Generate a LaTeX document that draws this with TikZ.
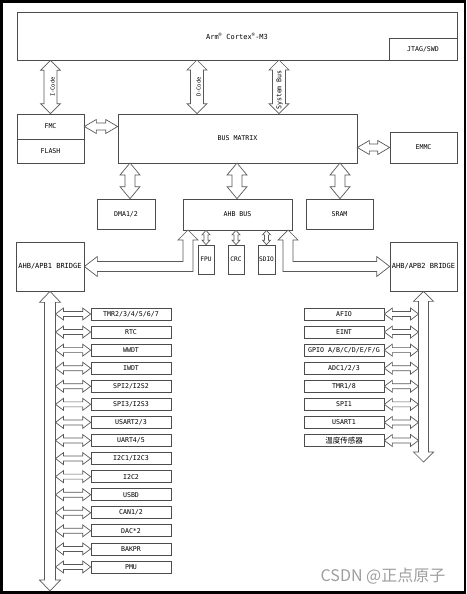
\documentclass[tikz,border=0pt]{standalone}
\usepackage{fontspec}
\newfontfamily\mono{DejaVu Sans Mono}
\newfontfamily\cjk{Noto Sans CJK SC}
\usetikzlibrary{calc}
\tikzset{
 box/.style={draw=black!70, line width=0.7pt, fill=white, inner sep=0pt, text=black, font=\mono\fontsize{6.6}{7}\selectfont},
 pbox/.style={box, minimum width=80pt, minimum height=12pt},
 barrow/.style={draw=black!65, line width=0.7pt, fill=white, line join=miter},
 blabel/.style={rotate=90, inner sep=0pt, text=black, font=\mono\fontsize{5.5}{6}\selectfont},
}
\newcommand\vbi[5]{\draw[barrow] let \p1=(#1), \p2=(#2) in (\x1,\y1) -- (\x1+#3pt,\y1-#5pt) -- (\x1+#4pt,\y1-#5pt) -- (\x1+#4pt,\y2+#5pt) -- (\x1+#3pt,\y2+#5pt) -- (\x1,\y2) -- (\x1-#3pt,\y2+#5pt) -- (\x1-#4pt,\y2+#5pt) -- (\x1-#4pt,\y1-#5pt) -- (\x1-#3pt,\y1-#5pt) -- cycle;}
\newcommand\hbi[5]{\draw[barrow] let \p1=(#1), \p2=(#2) in (\x1,\y1) -- (\x1+#5pt,\y1+#3pt) -- (\x1+#5pt,\y1+#4pt) -- (\x2-#5pt,\y1+#4pt) -- (\x2-#5pt,\y1+#3pt) -- (\x2,\y1) -- (\x2-#5pt,\y1-#3pt) -- (\x2-#5pt,\y1-#4pt) -- (\x1+#5pt,\y1-#4pt) -- (\x1+#5pt,\y1-#3pt) -- cycle;}
\begin{document}
\begin{tikzpicture}[x=1pt,y=-1pt]
\useasboundingbox (0,0) rectangle (466,594);
\fill[black] (0,0) rectangle (466,594);
\fill[white] (3,3) rectangle (464,591);

% main blocks
\node[box, minimum width=440pt, minimum height=48pt, font=\mono\fontsize{7}{8}\selectfont] (cortex) at (237,36) {Arm\textsuperscript{®} Cortex\textsuperscript{®}-M3};
\node[box, minimum width=68pt, minimum height=22pt] (jtag) at (423,49) {JTAG/SWD};
\node[box, minimum width=67pt, minimum height=25pt] (fmc) at (50.5,126.5) {FMC};
\node[box, minimum width=67pt, minimum height=24pt] (flash) at (50.5,151) {FLASH};
\node[box, minimum width=239pt, minimum height=49pt] (bm) at (237.5,138.5) {BUS MATRIX};
\node[box, minimum width=67pt, minimum height=31pt] (emmc) at (423.5,147.5) {EMMC};
\node[box, minimum width=58pt, minimum height=30pt] (dma) at (126,214) {DMA1/2};
\node[box, minimum width=109pt, minimum height=31pt] (ahb) at (237.5,214.5) {AHB BUS};
\node[box, minimum width=67pt, minimum height=30pt] (sram) at (339.5,214) {SRAM};
\node[box, minimum width=16pt, minimum height=29pt, font=\mono\fontsize{6.2}{7}\selectfont] (fpu) at (206,259.5) {FPU};
\node[box, minimum width=16pt, minimum height=29pt, font=\mono\fontsize{6.2}{7}\selectfont] (crc) at (236,259.5) {CRC};
\node[box, minimum width=17pt, minimum height=29pt, font=\mono\fontsize{6.2}{7}\selectfont] (sdio) at (266.5,259.5) {SDIO};
\node[box, minimum width=68pt, minimum height=49pt, font=\mono\fontsize{7}{8}\selectfont] (apb1) at (50,266.5) {AHB/APB1 BRIDGE};
\node[box, minimum width=67pt, minimum height=49pt, font=\mono\fontsize{7}{8}\selectfont] (apb2) at (423.5,266.5) {AHB/APB2 BRIDGE};

% helper coordinates
\coordinate (dcode) at (197,60);
\coordinate (sbus) at (279,60);
\coordinate (dmaA) at (130,163);
\coordinate (ahbA) at (237,163);
\coordinate (sramA) at (340,163);
\coordinate (e1) at (188,230);
\coordinate (e2) at (288,230);
\coordinate (lend) at (50,591);
\coordinate (rend) at (423.5,462);
\coordinate (lbus) at (55.5,0);
\coordinate (rbus) at (418.5,0);

% core buses
\vbi{fmc.north |- cortex.south}{fmc.north}{10}{6.5}{10}
\vbi{dcode}{dcode |- bm.north}{10}{6.5}{10}
\vbi{sbus}{sbus |- bm.north}{10}{6.5}{10}
\node[blabel] (licode) at (52.5,87) {I-Code};
\node[blabel] (ldcode) at (198.5,87) {D-Code};
\node[blabel, font=\mono\fontsize{6.6}{7}\selectfont] (lsbus) at (279.5,90) {System Bus};

% bus matrix links
\hbi{fmc.east}{fmc.east -| bm.west}{7}{3.5}{12}
\hbi{emmc.west -| bm.east}{emmc.west}{7}{3.5}{12}
\vbi{dmaA}{dmaA |- dma.north}{10}{5}{12}
\vbi{ahbA}{ahbA |- ahb.north}{10}{5}{12}
\vbi{sramA}{sramA |- sram.north}{10}{5}{12}

% AHB small links
\vbi{fpu.north |- ahb.south}{fpu.north}{4}{2}{4.5}
\vbi{crc.north |- ahb.south}{crc.north}{4}{2}{4.5}
\vbi{sdio.north |- ahb.south}{sdio.north}{4}{2}{4.5}

% elbow arrows to bridges
\draw[barrow] let \p1=(e1), \p2=(apb1.east) in (\x1,\y1) -- (\x1+10pt,\y1-10pt) -- (\x1+5pt,\y1-10pt) -- (\x1+5pt,\y2-5pt) -- (\x2+13pt,\y2-5pt) -- (\x2+13pt,\y2-10pt) -- (\x2,\y2) -- (\x2+13pt,\y2+10pt) -- (\x2+13pt,\y2+5pt) -- (\x1-5pt,\y2+5pt) -- (\x1-5pt,\y1-10pt) -- (\x1-10pt,\y1-10pt) -- cycle;
\draw[barrow] let \p1=(e2), \p2=(apb2.west) in (\x1,\y1) -- (\x1-10pt,\y1-10pt) -- (\x1-5pt,\y1-10pt) -- (\x1-5pt,\y2-5pt) -- (\x2-13pt,\y2-5pt) -- (\x2-13pt,\y2-10pt) -- (\x2,\y2) -- (\x2-13pt,\y2+10pt) -- (\x2-13pt,\y2+5pt) -- (\x1+5pt,\y2+5pt) -- (\x1+5pt,\y1-10pt) -- (\x1+10pt,\y1-10pt) -- cycle;

% APB buses
\vbi{apb1.south}{lend}{10.5}{5.5}{11}
\vbi{apb2.south}{rend}{10}{5}{10}

% APB1 peripherals
\foreach \t [count=\i from 0] in {TMR2/3/4/5/6/7, RTC, WWDT, IWDT, SPI2/I2S2, SPI3/I2S3, USART2/3, UART4/5, I2C1/I2C3, I2C2, USBD, CAN1/2, DAC*2, BAKPR, PMU}{
  \node[pbox] (l\i) at (131,{314+18.07*\i}) {\t};
  \hbi{lbus |- l\i.west}{l\i.west}{6}{2.5}{8}
}
% APB2 peripherals
\foreach \t [count=\i from 0] in {AFIO, EINT, GPIO A/B/C/D/E/F/G, ADC1/2/3, TMR1/8, SPI1, USART1, {\cjk\fontsize{7.5}{8}\selectfont 温度传感器}}{
  \node[pbox] (r\i) at (344,{314+18.07*\i}) {\t};
  \hbi{r\i.east}{rbus |- r\i.east}{6}{2.5}{8}
}

% watermark
\node[inner sep=0pt, text=black!38, font=\cjk\fontsize{16}{18}\selectfont] (wm) at (383,576) {CSDN @正点原子};
\end{tikzpicture}
\end{document}
